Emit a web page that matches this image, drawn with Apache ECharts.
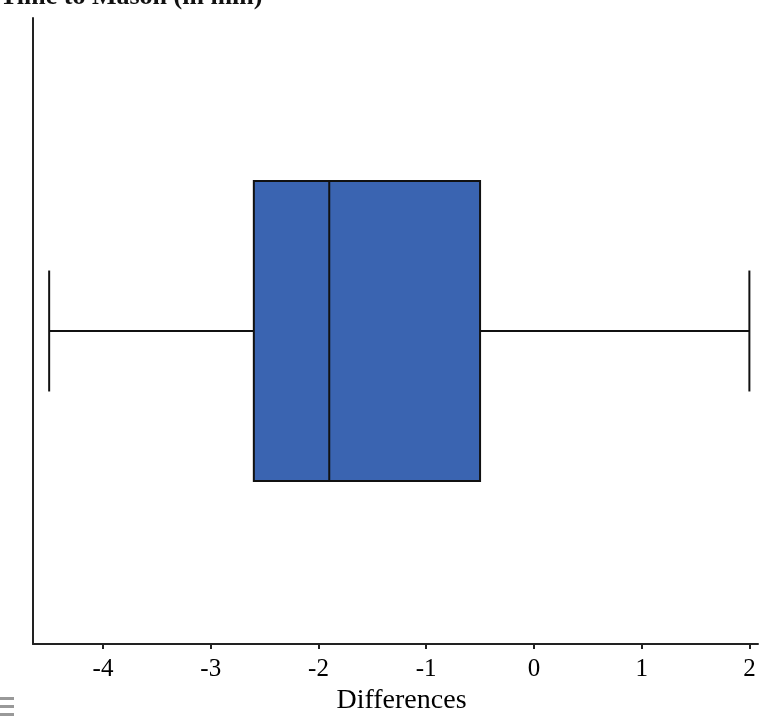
<!DOCTYPE html>
<html><head><meta charset="utf-8">
<script src="https://cdn.jsdelivr.net/npm/echarts@6/dist/echarts.min.js"></script>
<style>html,body{margin:0;padding:0;background:#fff}#c{width:764px;height:718px}</style>
</head><body><div id="c"></div>
<script>
const categories = ['Differences'];
const boxStats = [[-4.5, -2.6, -1.9, -0.5, 2.0]]; // min, Q1, median, Q3, max
const xTicks = [-4, -3, -2, -1, 0, 1, 2];
const xName = 'Differences';
const titleText = 'Time to Mason (in min)';

const chart = echarts.init(document.getElementById('c'), null, {renderer: 'canvas'});
const FONT = '"Liberation Serif", "DejaVu Serif", serif';
const X_MIN = -4.65, X_MAX = 2.08;
chart.setOption({
  animation: false,
  grid: {left: 33, right: 6, top: 18, bottom: 74, outerBoundsMode: 'none', containLabel: false},
  graphic: [
    {type: 'text', left: 0, top: -16, style: {text: titleText, font: 'bold 26px ' + FONT, fill: '#111'}},
    {type: 'rect', shape: {x: 0, y: 697, width: 14, height: 3}, style: {fill: '#999'}},
    {type: 'rect', shape: {x: 0, y: 705, width: 14, height: 3}, style: {fill: '#999'}},
    {type: 'rect', shape: {x: 0, y: 713, width: 14, height: 3}, style: {fill: '#999'}}
  ],
  xAxis: {
    type: 'value', min: X_MIN, max: X_MAX,
    name: xName, nameLocation: 'middle', nameGap: 40,
    nameTextStyle: {fontFamily: FONT, fontSize: 28, color: '#000', padding: [0, 0, 0, 12]},
    splitLine: {show: false},
    axisLine: {show: true, onZero: false, lineStyle: {color: '#222', width: 2}},
    axisTick: {show: true, length: 5, customValues: xTicks, lineStyle: {color: '#222', width: 2}},
    axisLabel: {fontFamily: FONT, fontSize: 25, color: '#000', margin: 13, customValues: xTicks,
      formatter: v => String(v)}
  },
  yAxis: {
    type: 'category', data: categories,
    axisLine: {show: true, onZero: false, lineStyle: {color: '#222', width: 2}},
    axisTick: {show: false}, axisLabel: {show: false}, splitLine: {show: false}
  },
  series: [{
    type: 'custom',
    data: boxStats.map((d, i) => [i].concat(d)),
    encode: {x: [1, 2, 3, 4, 5], y: 0},
    renderItem: function (params, api) {
      const c = api.value(0);
      const pMin = api.coord([api.value(1), c]);
      const pQ1 = api.coord([api.value(2), c]);
      const pMed = api.coord([api.value(3), c]);
      const pQ3 = api.coord([api.value(4), c]);
      const pMax = api.coord([api.value(5), c]);
      const band = api.size([0, 1])[1];
      const hb = band * 0.2396;
      const hc = band * 0.0966;
      const y = pMed[1];
      const ls = {stroke: '#111', lineWidth: 2};
      return {type: 'group', children: [
        {type: 'line', shape: {x1: pMin[0], y1: y, x2: pQ1[0], y2: y}, style: ls},
        {type: 'line', shape: {x1: pQ3[0], y1: y, x2: pMax[0], y2: y}, style: ls},
        {type: 'line', shape: {x1: pMin[0], y1: y - hc, x2: pMin[0], y2: y + hc}, style: ls},
        {type: 'line', shape: {x1: pMax[0], y1: y - hc, x2: pMax[0], y2: y + hc}, style: ls},
        {type: 'rect', shape: {x: pQ1[0], y: y - hb, width: pQ3[0] - pQ1[0], height: 2 * hb},
          style: {fill: '#3a64b1', stroke: '#111', lineWidth: 2}},
        {type: 'line', shape: {x1: pMed[0], y1: y - hb, x2: pMed[0], y2: y + hb}, style: ls}
      ]};
    }
  }]
});
</script></body></html>
